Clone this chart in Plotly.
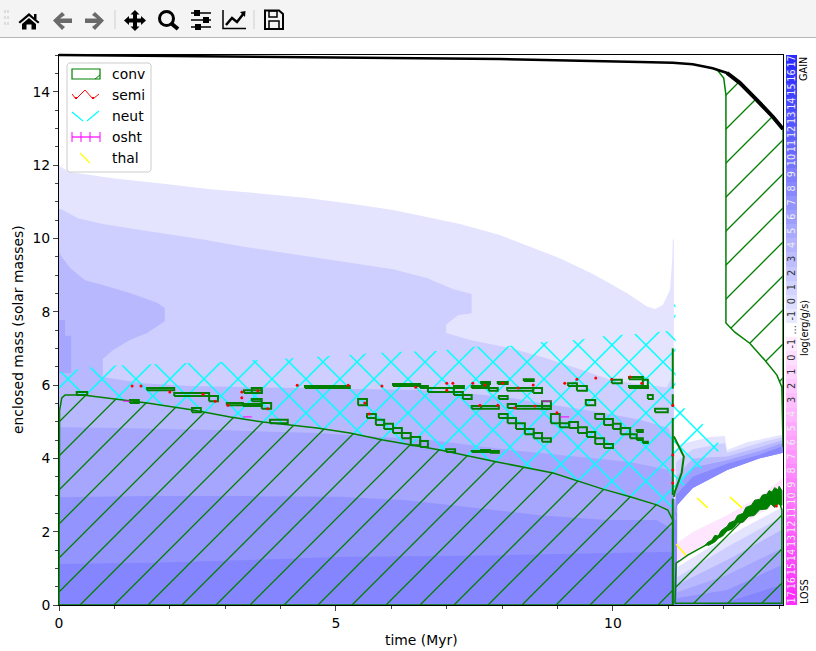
import plotly.graph_objects as go

# ---- data (time in Myr, mass in solar masses) ----
FIG_W, FIG_H = 816, 651
XMAX = 13.07
YMAX = 15.0

# star surface
surface_t = [0, 4.35, 7.96, 10.49, 11.08, 11.44, 11.8, 12.06, 12.29, 12.6, 12.89, 13.07]
surface_m = [15.0, 14.94, 14.89, 14.81, 14.79, 14.75, 14.64, 14.51, 14.24, 13.77, 13.31, 12.98]

# burning/energy regions before core helium ignition, light to dark
gain1_t = [0, 0.04, 0.2, 0.97, 1.77, 2.73, 3.5, 4.48, 5.43, 6.03, 6.64, 7.24, 7.96, 8.56, 9.04, 9.64, 10.25, 10.61, 10.76, 10.9, 11.03, 11.07, 11.08, 11.1, 11.1, 0]
gain1_m = [12.0, 11.94, 11.81, 11.64, 11.51, 11.34, 11.24, 11.1, 10.91, 10.77, 10.58, 10.39, 10.09, 9.74, 9.46, 9.03, 8.51, 8.15, 8.07, 8.18, 8.59, 9.41, 9.95, 10.0, 0, 0]

gain2_t = [0, 0.04, 0.34, 0.79, 1.59, 2.55, 3.39, 4.58, 5.61, 6.03, 6.64, 7.11, 7.45, 7.45, 7.2, 6.99, 6.99, 7.42, 8.14, 8.74, 9.35, 9.95, 10.54, 10.97, 11.07, 11.08, 11.1, 11.1, 0]
gain2_m = [10.8, 10.8, 10.55, 10.39, 10.2, 9.98, 9.76, 9.49, 9.27, 9.16, 8.92, 8.62, 8.48, 7.96, 7.9, 7.64, 7.42, 7.23, 7.01, 6.76, 6.46, 6.14, 6.0, 5.94, 6.22, 6.6, 6.6, 0, 0]

gain3_t = [0, 0.04, 0.2, 0.47, 0.79, 1.28, 1.77, 1.91, 1.91, 1.59, 1.28, 0.97, 0.79, 0.79, 1.52, 2.36, 4.3, 6.7, 8.09, 8.68, 9.77, 10.49, 11.0, 11.08, 11.1, 11.1, 0]
gain3_m = [9.63, 9.52, 9.19, 8.86, 8.73, 8.51, 8.24, 8.1, 7.74, 7.42, 7.23, 6.95, 6.71, 6.22, 6.05, 5.97, 5.92, 5.86, 5.67, 5.51, 5.26, 5.05, 4.83, 4.5, 4.5, 0, 0]

gain3b_t = [0, 0.11, 0.11, 0.22, 0.22, 0]
gain3b_m = [7.77, 7.77, 7.34, 7.34, 6.33, 6.33]

gain4_t = [0, 1.05, 2.85, 4.66, 6.7, 8.14, 10.31, 11.0, 11.08, 11.1, 11.1, 0]
gain4_m = [4.85, 4.83, 4.77, 4.69, 4.5, 4.23, 3.9, 3.68, 3.41, 3.41, 0, 0]

gain5_t = [0, 1.64, 3.45, 5.07, 6.28, 7.47, 8.68, 9.89, 10.79, 11.08, 11.1, 11.1, 0]
gain5_m = [2.94, 2.97, 2.97, 2.95, 2.86, 2.65, 2.45, 2.32, 2.32, 2.05, 2.05, 0, 0]

gain6_t = [0, 1.64, 3.45, 5.07, 8.09, 11.08, 11.1, 11.1, 0]
gain6_m = [1.12, 1.15, 1.23, 1.31, 1.36, 1.45, 1.45, 0, 0]

funnel_t = [11.08, 11.1, 11.16, 11.16, 11.08]
funnel_m = [0, 2.9, 2.9, 0, 0]

# hydrogen shell after the hook: top edges, sharing one lower edge
shell_low_t = [13.07, 12.65, 12.06, 11.44, 11.16, 11.12]
shell_low_m = [4.15, 4.0, 3.68, 3.19, 2.73, 2.3]
shell1_t = [11.1, 11.3, 11.75, 12.02, 12.06, 12.42, 13.05, 13.07]
shell1_m = [4.2, 4.42, 4.58, 4.61, 4.23, 4.44, 4.64, 4.64]
shell2_t = [11.14, 11.44, 12.02, 12.06, 12.65, 13.07]
shell2_m = [3.9, 4.25, 4.42, 4.15, 4.42, 4.58]
shell3_t = [11.14, 11.44, 12.06, 12.65, 13.07]
shell3_m = [3.5, 4.0, 4.05, 4.3, 4.5]
shell4_t = [11.14, 11.44, 12.06, 12.65, 13.07]
shell4_m = [3.2, 3.75, 3.95, 4.2, 4.42]
shell5_t = [11.14, 11.44, 12.06, 12.65, 13.07]
shell5_m = [3.0, 3.5, 3.85, 4.1, 4.33]

# loss band (pink)
loss_t = [11.16, 11.44, 12.06, 12.65, 12.96, 13.05, 13.07, 12.29, 11.57, 11.16]
loss_m = [1.69, 1.99, 2.45, 2.95, 3.33, 3.46, 2.86, 2.18, 1.58, 1.09]

# contracting core after the hook
core1_t = [11.17, 11.75, 12.35, 13.05, 13.07, 13.07, 11.17]
core1_m = [1.04, 1.58, 2.1, 2.67, 2.67, 0, 0]
core2_t = [11.16, 12.06, 13.05, 13.07, 13.07, 11.16]
core2_m = [0.76, 1.58, 2.4, 2.4, 0, 0]
core3_t = [11.16, 12.06, 13.05, 13.07, 13.07, 11.16]
core3_m = [0.55, 1.23, 2.05, 2.05, 0, 0]
core4_t = [11.16, 12.06, 13.05, 13.07, 13.07, 11.16]
core4_m = [0.35, 0.82, 1.55, 1.55, 0, 0]
core5_t = [11.16, 12.06, 13.05, 13.07, 13.07, 11.16]
core5_m = [0.19, 0.41, 1.09, 1.09, 0, 0]
core6_t = [11.6, 12.06, 13.05, 13.07, 13.07, 11.6]
core6_m = [0, 0.08, 0.55, 0.55, 0, 0]

# overshoot-free convective zones
conv_core_t = [0, 0.01, 0.05, 0.11, 0.43, 1.14, 1.59, 2.42, 3.09, 3.68, 4.66, 5.25, 5.85, 6.88, 7.91, 8.92, 9.82, 10.31, 10.79, 10.99, 11.08, 11.08, 0]
conv_core_m = [0, 5.3, 5.65, 5.73, 5.73, 5.59, 5.51, 5.32, 5.13, 4.99, 4.83, 4.69, 4.5, 4.23, 3.9, 3.6, 3.16, 2.95, 2.73, 2.59, 2.32, 0, 0]

conv_env_t = [11.88, 12.0, 12.04, 12.04, 12.2, 12.47, 12.74, 12.96, 13.05, 13.07, 13.07, 12.89, 12.6, 12.29, 12.06, 11.88]
conv_env_m = [14.6, 14.37, 13.91, 7.69, 7.44, 7.14, 6.68, 6.27, 5.94, 4.31, 12.98, 13.31, 13.77, 14.24, 14.51, 14.6]

conv_he_t = [11.12, 11.14, 11.2, 11.35, 11.84, 12.06, 12.35, 12.65, 12.96, 13.05, 13.05, 11.12]
conv_he_m = [0.05, 1.14, 1.2, 1.36, 1.77, 2.1, 2.4, 2.73, 3.05, 2.59, 0.05, 0.05]

conv_flash_t = [11.66, 11.72, 11.78, 11.84, 11.9, 11.95, 12.0, 12.06, 12.1, 12.2, 12.25, 12.35, 12.4, 12.5, 12.56, 12.65, 12.7, 12.78, 12.82, 12.87, 12.92, 12.98, 13.0, 13.05, 13.05, 12.98, 12.92, 12.85, 12.78, 12.65, 12.55, 12.45, 12.35, 12.25, 12.16, 12.06, 11.98, 11.9, 11.84, 11.72]
conv_flash_m = [1.62, 1.72, 1.76, 1.9, 1.88, 2.02, 2.08, 2.14, 2.24, 2.3, 2.44, 2.5, 2.66, 2.72, 2.86, 2.88, 3.0, 3.02, 3.12, 3.08, 3.2, 3.14, 3.24, 3.12, 2.72, 2.76, 2.66, 2.76, 2.62, 2.6, 2.44, 2.42, 2.26, 2.24, 2.08, 2.02, 1.88, 1.82, 1.72, 1.62]

conv_hook_t = [11.1, 11.28, 11.24, 11.12, 11.1]
conv_hook_m = [4.6, 4.05, 3.6, 3.1, 2.95]

conv_spine_t = [11.08, 11.08, None, 11.08, 11.08, None, 11.08, 11.08, None, 11.08, 11.08]
conv_spine_m = [7.0, 5.9, None, 5.75, 5.4, None, 5.1, 3.0, None, 2.9, 0]

# small shell convection boxes: start, end, bottom, top
box_t0 = [0.32, 1.28, 2.40, 3.81, 1.59, 2.08, 2.71, 3.34, 3.48, 3.48, 3.03, 3.32, 3.66, 4.44, 5.07, 6.03, 6.52, 6.66, 7.13, 7.29, 7.13, 7.45, 7.62, 7.76, 7.92, 8.09, 8.39, 8.56, 9.19, 9.35, 9.98, 10.29, 10.54, 10.29, 5.40, 5.56, 5.72, 5.87, 6.03, 6.19, 6.35, 6.52, 6.99, 7.45, 7.62, 7.78, 7.45, 7.62, 7.94, 7.94, 8.10, 8.25, 8.72, 8.10, 8.25, 8.41, 8.57, 8.72, 8.88, 9.04, 9.21, 9.37, 9.53, 9.68, 9.84, 9.51, 9.68, 9.84, 10.0, 10.14, 10.31, 10.43, 10.54, 10.43, 10.63, 10.76]
box_t1 = [0.51, 1.44, 2.56, 4.13, 2.08, 2.71, 2.87, 3.66, 3.66, 3.66, 3.32, 3.66, 3.83, 5.07, 5.25, 6.52, 6.66, 7.13, 7.29, 7.45, 7.31, 7.76, 7.78, 7.92, 8.10, 8.56, 8.57, 8.72, 9.35, 9.53, 10.16, 10.54, 10.63, 10.63, 5.56, 5.72, 5.87, 6.03, 6.19, 6.35, 6.52, 6.66, 7.15, 7.60, 7.78, 7.94, 7.62, 7.94, 8.10, 8.10, 8.25, 8.88, 8.88, 8.25, 8.41, 8.57, 8.72, 8.88, 9.04, 9.21, 9.37, 9.53, 9.68, 9.84, 10.0, 9.68, 9.84, 10.0, 10.14, 10.31, 10.43, 10.54, 10.63, 10.54, 10.72, 10.99]
box_m0 = [5.73, 5.51, 5.26, 4.96, 5.86, 5.70, 5.56, 5.78, 5.78, 5.56, 5.45, 5.43, 5.35, 5.92, 5.92, 5.97, 5.92, 5.81, 5.73, 5.62, 5.92, 5.92, 6.03, 5.84, 6.03, 5.84, 6.11, 5.78, 5.97, 5.84, 6.05, 6.16, 5.92, 5.92, 5.45, 5.10, 4.91, 4.80, 4.69, 4.55, 4.36, 4.31, 4.17, 4.17, 4.17, 4.15, 5.35, 5.35, 5.62, 5.10, 5.37, 5.35, 5.35, 4.96, 4.80, 4.66, 4.55, 4.45, 4.96, 4.85, 4.83, 4.69, 4.58, 4.39, 4.28, 5.45, 5.07, 4.91, 4.80, 4.66, 4.55, 4.50, 4.42, 4.72, 5.62, 5.26]
box_m1 = [5.81, 5.59, 5.37, 5.05, 5.92, 5.78, 5.70, 5.86, 5.92, 5.62, 5.51, 5.48, 5.51, 5.97, 5.97, 6.03, 5.97, 5.92, 5.81, 5.73, 5.97, 5.97, 6.08, 5.92, 6.08, 5.92, 6.16, 5.92, 6.05, 5.97, 6.14, 6.22, 6.14, 5.97, 5.62, 5.21, 5.05, 4.94, 4.83, 4.69, 4.58, 4.47, 4.25, 4.20, 4.23, 4.20, 5.43, 5.43, 5.70, 5.21, 5.48, 5.43, 5.56, 5.10, 4.96, 4.80, 4.69, 4.55, 5.21, 4.96, 4.99, 4.85, 4.72, 4.55, 4.39, 5.59, 5.21, 5.07, 4.94, 4.83, 4.66, 4.55, 4.45, 4.77, 5.73, 5.35]

# neutrino cooling region
neut_t = [0, 0.74, 2.92, 4.35, 6.03, 6.82, 7.47, 8.09, 8.74, 9.35, 9.89, 10.43, 10.99, 11.1, 11.1, 11.13, 11.13, 11.3, 11.78, 11.96, 11.3, 11.13, 11.08, 10.79, 10.31, 9.82, 8.92, 7.91, 6.88, 5.85, 5.25, 4.66, 3.68, 3.09, 2.42, 1.59, 1.14, 0.43, 0.11, 0]
neut_m = [6.35, 6.52, 6.63, 6.74, 6.9, 6.93, 7.04, 7.06, 7.17, 7.23, 7.34, 7.39, 7.47, 7.47, 8.2, 8.2, 5.45, 5.36, 4.72, 4.28, 3.27, 3.0, 2.32, 2.73, 2.95, 3.16, 3.6, 3.9, 4.23, 4.5, 4.69, 4.83, 4.99, 5.13, 5.32, 5.51, 5.59, 5.73, 5.73, 5.65]

semi_t = [1.32, 1.48, 2.0, 2.6, 2.82, 3.3, 3.59, 3.3, 3.05, 3.77, 4.3, 5.22, 5.83, 6.44, 7.0, 7.11, 7.0, 7.47, 7.69, 8.01, 8.29, 8.56, 9.13, 9.35, 9.69, 9.98, 10.31, 10.52, 5.52, 5.6, 7.6, 7.92, 8.23, 8.59, 8.99, 11.08, 11.08, 11.08, 11.08, 12.95]
semi_m = [5.97, 5.97, 5.81, 5.75, 5.56, 5.81, 5.84, 5.65, 5.45, 5.35, 5.99, 5.99, 5.97, 5.94, 6.05, 6.05, 5.86, 6.05, 6.0, 6.05, 5.92, 6.0, 6.05, 6.16, 6.19, 6.16, 6.22, 6.05, 5.51, 5.21, 5.45, 5.45, 5.37, 5.43, 5.24, 5.45, 4.09, 3.68, 3.33, 2.7]

osht_t = [1.16, 1.28, None, 3.32, 3.48, None, 8.72, 8.88, None, 9.04, 9.21]
osht_m = [5.56, 5.56, None, 5.13, 5.13, None, 5.56, 5.56, None, 5.13, 5.13]

thal_t = [11.14, 11.32, None, 11.52, 11.71, None, 12.11, 12.33]
thal_m = [1.66, 1.36, None, 2.92, 2.65, None, 2.95, 2.65]

# colour bar, top to bottom
cbar_labels = ['17', '16', '15', '14', '13', '12', '11', '10', '9', '8', '7', '6', '5', '4', '3', '2', '1', '0', '-1', '...',
               '-1', '0', '1', '2', '3', '4', '5', '6', '7', '8', '9', '10', '11', '12', '13', '14', '15', '16', '17']
cbar_z = [19, 18, 17, 16, 15, 14, 13, 12, 11, 10, 9, 8, 7, 6, 5, 4, 3, 2, 1, 0,
          -1, -2, -3, -4, -5, -6, -7, -8, -9, -10, -11, -12, -13, -14, -15, -16, -17, -18, -19]

legend_labels = ['conv', 'semi', 'neut', 'osht', 'thal']

GREEN = '#008000'
BLUES = ['#e4e4ff', '#cfcfff', '#b8b8ff', '#a6a6ff', '#9494ff', '#8585ff']


def px(x, y):
    return x / FIG_W, 1 - y / FIG_H


def icon_path(points, close=True):
    parts = []
    for i, (x, y) in enumerate(points):
        xp, yp = px(x, y)
        parts.append(('M' if i == 0 else 'L') + f'{xp:.5f},{yp:.5f}')
    return ' '.join(parts) + (' Z' if close else '')


fig = go.Figure()


def add_region(t, m, color, xaxis='x', yaxis='y'):
    fig.add_trace(go.Scatter(x=t, y=m, mode='lines', fill='toself', fillcolor=color,
                             line=dict(width=0, color=color), hoverinfo='skip',
                             xaxis=xaxis, yaxis=yaxis))


# filled energy layers
add_region(gain1_t, gain1_m, BLUES[0])
add_region(gain2_t, gain2_m, BLUES[1])
add_region(gain3_t, gain3_m, BLUES[2])
add_region(gain3b_t, gain3b_m, BLUES[3])
add_region(gain4_t, gain4_m, BLUES[3])
add_region(gain5_t, gain5_m, BLUES[4])
add_region(gain6_t, gain6_m, BLUES[5])
add_region(funnel_t, funnel_m, '#8888ff')

for i, (st, sm) in enumerate([(shell1_t, shell1_m), (shell2_t, shell2_m), (shell3_t, shell3_m),
                              (shell4_t, shell4_m), (shell5_t, shell5_m)]):
    add_region(st + shell_low_t, sm + shell_low_m, ['#e4e4ff', '#cfcfff', '#b8b8ff', '#a0a0ff', '#8888ff'][i])

add_region(loss_t, loss_m, '#ffe6ff')
for i, (st, sm) in enumerate([(core1_t, core1_m), (core2_t, core2_m), (core3_t, core3_m),
                              (core4_t, core4_m), (core5_t, core5_m), (core6_t, core6_m)]):
    add_region(st, sm, BLUES[i])

# hatched zones live on a hidden axes whose origin sets the hatch phase
HATCH_DX, HATCH_DY = 8, 33
HATCH_SIZE = 34 / 2 ** 0.5  # plotly multiplies the tile by sqrt(2)
AX_L, AX_R, AX_T, AX_B = 59, 783, 55, 605
x_scale = (AX_R - AX_L) / XMAX
y_scale = (AX_B - AX_T) / YMAX


def add_hatched(t, m, shape, color, solidity, line_width):
    fig.add_trace(go.Scatter(x=t, y=m, mode='lines', fill='toself', fillcolor='rgba(0,0,0,0)',
                             fillpattern=dict(shape=shape, size=HATCH_SIZE, solidity=solidity, fgcolor=color,
                                              fgopacity=1, bgcolor='rgba(0,0,0,0)', fillmode='overlay'),
                             line=dict(width=line_width, color=color), hoverinfo='skip',
                             xaxis='x3', yaxis='y3'))


add_hatched(neut_t, neut_m, 'x', 'cyan', 0.12, 0)
add_hatched(conv_core_t, conv_core_m, '/', GREEN, 0.055, 1.5)
add_hatched(conv_env_t, conv_env_m, '/', GREEN, 0.055, 1.5)
add_hatched(conv_he_t, conv_he_m, '/', GREEN, 0.055, 1.5)

fig.add_trace(go.Scatter(x=conv_flash_t, y=conv_flash_m, mode='lines', fill='toself', fillcolor=GREEN,
                         line=dict(width=1, color=GREEN), xaxis='x3', yaxis='y3', hoverinfo='skip'))
fig.add_trace(go.Scatter(x=conv_hook_t, y=conv_hook_m, mode='lines', line=dict(width=2, color=GREEN),
                         xaxis='x3', yaxis='y3', hoverinfo='skip'))
fig.add_trace(go.Scatter(x=conv_spine_t, y=conv_spine_m, mode='lines', line=dict(width=2, color=GREEN),
                         xaxis='x3', yaxis='y3', hoverinfo='skip'))

# small convection boxes as one broken line
box_x, box_y = [], []
for t0, t1, m0, m1 in zip(box_t0, box_t1, box_m0, box_m1):
    box_x += [t0, t1, t1, t0, t0, None]
    box_y += [m0, m0, m1, m1, m0, None]
fig.add_trace(go.Scatter(x=box_x, y=box_y, mode='lines', line=dict(width=2, color=GREEN),
                         xaxis='x3', yaxis='y3', hoverinfo='skip'))

fig.add_trace(go.Scatter(x=semi_t, y=semi_m, mode='markers', marker=dict(size=3, color='red'),
                         xaxis='x3', yaxis='y3', hoverinfo='skip'))
fig.add_trace(go.Scatter(x=osht_t, y=osht_m, mode='lines', line=dict(width=1, color='magenta'),
                         xaxis='x3', yaxis='y3', hoverinfo='skip'))
fig.add_trace(go.Scatter(x=thal_t, y=thal_m, mode='lines', line=dict(width=1.5, color='yellow'),
                         xaxis='x3', yaxis='y3', hoverinfo='skip'))
fig.add_trace(go.Scatter(x=surface_t, y=surface_m, mode='lines', line=dict(width=2.5, color='black'),
                         xaxis='x3', yaxis='y3', hoverinfo='skip'))
fig.add_trace(go.Scatter(x=surface_t[7:], y=surface_m[7:], mode='lines', line=dict(width=4, color='black'),
                         xaxis='x3', yaxis='y3', hoverinfo='skip'))

# colour bar
cbar_pos = list(range(len(cbar_z)))
fig.add_trace(go.Heatmap(z=[[v] for v in cbar_z], x=[0], y=cbar_pos, xaxis='x2', yaxis='y2', showscale=False,
                         zmin=-20, zmax=20, hoverinfo='skip',
                         colorscale=[[0, '#ff20ff'], [0.475, '#ffeaff'], [0.5, '#ffffff'], [0.525, '#e8e8ff'], [1, '#2020ff']]))

annotations = []
for pos, lab, z in zip(cbar_pos, cbar_labels, cbar_z):
    annotations.append(dict(x=0, y=pos, xref='x2', yref='y2', text=lab, showarrow=False, textangle=-90,
                            font=dict(size=9.7, family='DejaVu Sans', color='#333333' if abs(z) < 6 else '#eeeeee')))

for text, yy in [('GAIN', 69), ('log(erg/g/s)', 328), ('LOSS', 592)]:
    xp, yp = px(804, yy)
    annotations.append(dict(x=xp, y=yp, xref='paper', yref='paper', text=text, showarrow=False, textangle=-90,
                            xanchor='center', yanchor='middle',
                            font=dict(size=9.7, family='DejaVu Sans', color='black')))

for lab, yy in zip(legend_labels, [74, 95, 116, 137, 158]):
    xp, yp = px(112, yy)
    annotations.append(dict(x=xp, y=yp, xref='paper', yref='paper', text=lab, showarrow=False, xanchor='left',
                            yanchor='middle', xshift=-2, font=dict(size=13.9, family='DejaVu Sans', color='black')))

# axis titles
xp, yp = px(421, 640)
annotations.append(dict(x=xp, y=yp, xref='paper', yref='paper', text='time (Myr)', showarrow=False,
                        xanchor='center', yanchor='middle', font=dict(size=13.9, family='DejaVu Sans', color='black')))
xp, yp = px(18, 330)
annotations.append(dict(x=xp, y=yp, xref='paper', yref='paper', text='enclosed mass (solar masses)', showarrow=False,
                        textangle=-90, xanchor='center', yanchor='middle',
                        font=dict(size=13.9, family='DejaVu Sans', color='black')))

# legend box and handles, toolbar icons
shapes = []


def add_poly(points, fill=None, line=None, width=1, close=True, layer='above'):
    shapes.append(dict(type='path', xref='paper', yref='paper', path=icon_path(points, close), layer=layer,
                       fillcolor=fill if fill else 'rgba(0,0,0,0)',
                       line=dict(color=line if line else 'rgba(0,0,0,0)', width=width if line else 0)))


add_poly([(69, 63), (149, 63), (151, 65), (151, 170), (149, 172), (69, 172), (67, 170), (67, 65)],
         fill='rgba(255,255,255,0.85)', line='#cccccc')
add_poly([(72, 69), (100, 69), (100, 79), (72, 79)], line=GREEN, width=1.2)
add_poly([(95, 79), (100, 75)], line=GREEN, width=1, close=False)
add_poly([(72, 94), (76, 99), (85, 90), (93, 99), (99, 94)], line='red', width=1, close=False)
add_poly([(76, 97), (76, 99)], line='red', width=2, close=False)
add_poly([(93, 97), (93, 99)], line='red', width=2, close=False)
add_poly([(72, 112), (83, 121)], line='cyan', width=1.2, close=False)
add_poly([(87, 121), (99, 111)], line='cyan', width=1.2, close=False)
add_poly([(72, 137), (100, 137)], line='magenta', width=1.2, close=False)
for xx in (72, 81, 90, 100):
    add_poly([(xx, 132), (xx, 142)], line='magenta', width=1, close=False)
add_poly([(80, 153), (90, 163)], line='yellow', width=1.2, close=False)

# toolbar
add_poly([(0, 0), (816, 0), (816, 37), (0, 37)], fill='#f4f4f4')
add_poly([(0, 37.5), (816, 37.5)], line='#b9b9b9', width=1, close=False)
for xx in (5, 8):
    shapes.append(dict(type='line', xref='paper', yref='paper', x0=px(xx, 0)[0], x1=px(xx, 0)[0],
                       y0=px(0, 10)[1], y1=px(0, 28)[1], line=dict(color='#c4c4c4', width=1, dash='dot')))
for xx in (115, 254):
    add_poly([(xx, 10), (xx, 29)], line='#cfcfcf', width=1, close=False)

add_poly([(18.5, 22), (29, 13), (34, 17.5), (34, 14), (36.5, 14), (36.5, 19.7), (39.5, 22), (38, 23.5), (29, 16), (20, 23.5)], fill='black')
add_poly([(22, 24), (29, 18), (36, 24), (36, 29.5), (31.5, 29.5), (31.5, 24.5), (26.5, 24.5), (26.5, 29.5), (22, 29.5)], fill='black')
add_poly([(53, 20.5), (62, 12), (65, 15), (60, 18.5), (72, 18.5), (72, 23), (60, 23), (65, 27), (62, 30)], fill='#6a6a6a')
add_poly([(104, 20.5), (95, 12), (92, 15), (97, 18.5), (85, 18.5), (85, 23), (97, 23), (92, 27), (95, 30)], fill='#6a6a6a')
add_poly([(135, 10), (139.5, 14.5), (137, 14.5), (137, 18.5), (141, 18.5), (141, 16), (146, 20.5), (141, 25), (141, 22.5),
          (137, 22.5), (137, 26.5), (139.5, 26.5), (135, 31), (130.5, 26.5), (133, 26.5), (133, 22.5), (129, 22.5), (129, 25),
          (124, 20.5), (129, 16), (129, 18.5), (133, 18.5), (133, 14.5), (130.5, 14.5)], fill='black')
shapes.append(dict(type='circle', xref='paper', yref='paper', x0=px(159.5, 0)[0], x1=px(173.5, 0)[0],
                   y0=px(0, 25.5)[1], y1=px(0, 11.5)[1], line=dict(color='black', width=3), layer='above'))
add_poly([(172, 24), (178, 29)], line='black', width=4, close=False)
for yy, kx in [(13, 197), (20, 206), (27, 198)]:
    add_poly([(191, yy), (211, yy)], line='black', width=1.5, close=False)
    add_poly([(kx - 3, yy - 3), (kx + 3, yy - 3), (kx + 3, yy + 3), (kx - 3, yy + 3)], fill='black')
add_poly([(223, 10), (223, 28.5), (246, 28.5)], line='black', width=1.5, close=False)
add_poly([(226, 25), (232, 18), (237, 22), (244, 13)], line='black', width=2.5, close=False)
add_poly([(240, 12), (245.5, 11), (245, 17)], fill='black')
add_poly([(265, 10.5), (279, 10.5), (283, 14), (283, 29), (265, 29)], line='black', width=2)
add_poly([(269, 11), (277, 11), (277, 17), (269, 17)], line='black', width=1.5)
add_poly([(269, 21), (279, 21), (279, 29), (269, 29)], line='black', width=1.5)

fig.update_layout(
    width=FIG_W, height=FIG_H, autosize=False,
    margin=dict(l=0, r=0, t=0, b=0),
    paper_bgcolor='white', plot_bgcolor='rgba(0,0,0,0)',
    showlegend=False,
    font=dict(family='DejaVu Sans', size=13.9, color='black'),
    shapes=shapes, annotations=annotations,
    xaxis=dict(domain=[AX_L / FIG_W, AX_R / FIG_W], range=[0, XMAX], tickvals=[0, 5, 10], ticks='outside',
               ticklen=5, tickwidth=1, showline=True, mirror=True, linecolor='black', linewidth=1,
               showgrid=False, zeroline=False, anchor='y', automargin=False,
               minor=dict(dtick=1, ticks='outside', ticklen=3, tickwidth=1, showgrid=False)),
    yaxis=dict(domain=[1 - AX_B / FIG_H, 1 - AX_T / FIG_H], range=[0, YMAX], tickvals=[0, 2, 4, 6, 8, 10, 12, 14],
               ticks='outside', ticklen=5, tickwidth=1, showline=True, mirror=True, linecolor='black', linewidth=1,
               showgrid=False, zeroline=False, anchor='x', automargin=False,
               minor=dict(dtick=0.5, ticks='outside', ticklen=3, tickwidth=1, showgrid=False)),
    xaxis2=dict(domain=[786 / FIG_W, 797 / FIG_W], range=[-0.5, 0.5], visible=False, anchor='y2'),
    yaxis2=dict(domain=[1 - AX_B / FIG_H, 1 - AX_T / FIG_H], range=[38.5, -0.5], visible=False, anchor='x2'),
    xaxis3=dict(domain=[(AX_L - HATCH_DX) / FIG_W, AX_R / FIG_W], range=[-HATCH_DX / x_scale, XMAX],
                visible=False, anchor='y3'),
    yaxis3=dict(domain=[1 - AX_B / FIG_H, 1 - (AX_T - HATCH_DY) / FIG_H], range=[0, YMAX + HATCH_DY / y_scale],
                visible=False, anchor='x3'),
)

fig.write_html("out.html", config={'displayModeBar': False}, post_script="document.body.style.margin='0';")
